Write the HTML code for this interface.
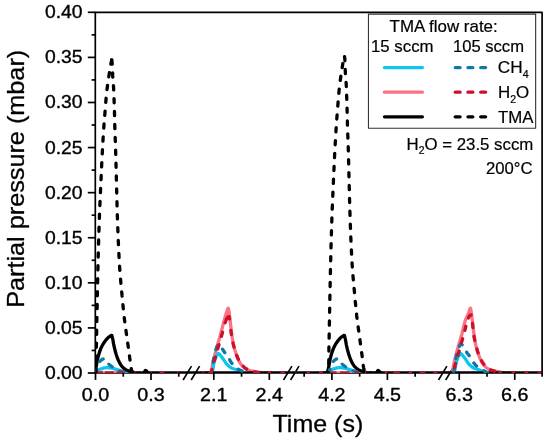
<!DOCTYPE html>
<html><head><meta charset="utf-8"><title>Partial pressure vs time</title>
<style>html,body{margin:0;padding:0;background:#fff}svg{display:block}</style></head>
<body>
<svg width="550" height="441" viewBox="0 0 550 441" font-family="'Liberation Sans', sans-serif" fill="#000" stroke-linejoin="round">
<rect width="550" height="441" fill="#fff"/>
<defs><clipPath id="c"><rect x="95.3" y="12.3" width="446.8" height="360.7"/></clipPath></defs>
<g stroke="#000" stroke-width="1.7" fill="none" stroke-linecap="butt">
<rect x="95.3" y="12.3" width="446.8" height="360.7"/>
<line x1="87.8" y1="373.00" x2="95.3" y2="373.00"/>
<line x1="91.6" y1="350.46" x2="95.3" y2="350.46"/>
<line x1="87.8" y1="327.91" x2="95.3" y2="327.91"/>
<line x1="91.6" y1="305.37" x2="95.3" y2="305.37"/>
<line x1="87.8" y1="282.82" x2="95.3" y2="282.82"/>
<line x1="91.6" y1="260.28" x2="95.3" y2="260.28"/>
<line x1="87.8" y1="237.74" x2="95.3" y2="237.74"/>
<line x1="91.6" y1="215.19" x2="95.3" y2="215.19"/>
<line x1="87.8" y1="192.65" x2="95.3" y2="192.65"/>
<line x1="91.6" y1="170.11" x2="95.3" y2="170.11"/>
<line x1="87.8" y1="147.56" x2="95.3" y2="147.56"/>
<line x1="91.6" y1="125.02" x2="95.3" y2="125.02"/>
<line x1="87.8" y1="102.48" x2="95.3" y2="102.48"/>
<line x1="91.6" y1="79.93" x2="95.3" y2="79.93"/>
<line x1="87.8" y1="57.39" x2="95.3" y2="57.39"/>
<line x1="91.6" y1="34.84" x2="95.3" y2="34.84"/>
<line x1="87.8" y1="12.30" x2="95.3" y2="12.30"/>
<line x1="95.50" y1="373.0" x2="95.50" y2="379.9"/>
<line x1="151.00" y1="373.0" x2="151.00" y2="379.9"/>
<line x1="123.25" y1="373.0" x2="123.25" y2="376.7"/>
<line x1="178.75" y1="373.0" x2="178.75" y2="376.7"/>
<line x1="213.80" y1="373.0" x2="213.80" y2="379.9"/>
<line x1="269.30" y1="373.0" x2="269.30" y2="379.9"/>
<line x1="241.55" y1="373.0" x2="241.55" y2="376.7"/>
<line x1="331.90" y1="373.0" x2="331.90" y2="379.9"/>
<line x1="387.40" y1="373.0" x2="387.40" y2="379.9"/>
<line x1="304.15" y1="373.0" x2="304.15" y2="376.7"/>
<line x1="359.65" y1="373.0" x2="359.65" y2="376.7"/>
<line x1="415.15" y1="373.0" x2="415.15" y2="376.7"/>
<line x1="459.25" y1="373.0" x2="459.25" y2="379.9"/>
<line x1="514.75" y1="373.0" x2="514.75" y2="379.9"/>
<line x1="487.00" y1="373.0" x2="487.00" y2="376.7"/>
<line x1="542.13" y1="373.0" x2="542.13" y2="376.7"/>
<line x1="183.1" y1="380.0" x2="191.5" y2="366.2" stroke-width="1.6"/>
<line x1="191.2" y1="380.0" x2="199.6" y2="366.2" stroke-width="1.6"/>
<line x1="283.5" y1="380.0" x2="291.9" y2="366.2" stroke-width="1.6"/>
<line x1="290.6" y1="380.0" x2="299.0" y2="366.2" stroke-width="1.6"/>
<line x1="438.5" y1="380.0" x2="446.9" y2="366.2" stroke-width="1.6"/>
<line x1="445.7" y1="380.0" x2="454.1" y2="366.2" stroke-width="1.6"/>
</g>
<g clip-path="url(#c)" fill="none" stroke-width="3.3" stroke-linejoin="round" stroke-linecap="round">
<path d="M95.50,373 L96.29,373 L97.09,373 L97.88,373 L98.68,373 L99.47,373 L100.27,373 L101.06,373 L101.86,373 L102.65,373 L103.45,373 L104.24,373 L105.04,373 L105.83,373 L106.62,373 L107.42,373 L108.21,373 L109.01,373 L109.80,373 L110.60,373 L111.39,373 L112.19,373 L112.98,373 L113.78,373 L114.57,373 L115.37,373 L116.16,373 L116.96,373 L117.75,373 L118.54,373 L119.34,373 L120.13,373 L120.93,373 L121.72,373 L122.52,373 L123.31,373 L124.11,373 L124.90,373 L125.70,373 L126.49,373 L127.29,373 L128.08,373 L128.88,373 L129.67,373 L130.46,373 L131.26,373 L132.05,373 L132.85,373 L133.64,373 L134.44,373 L135.23,373 L136.03,373 L136.82,373 L137.62,373 L138.41,373 L139.21,373 L140,373" stroke="#fb7282"/>
<path d="M204,373 L204.97,373 L205.88,373 L206.73,373 L207.53,373 L208.27,373 L208.96,373 L209.59,373 L209.60,373 L210.20,372.63 L210.72,371.87 L210.90,371.50 L211.04,371.16 L211.29,370.45 L211.50,369.71 L211.68,368.93 L211.84,368.14 L211.98,367.33 L212.12,366.51 L212.26,365.70 L212.41,364.89 L212.58,364.10 L212.60,364 L212.76,363.32 L212.94,362.54 L213.12,361.76 L213.30,360.99 L213.48,360.21 L213.67,359.43 L213.85,358.65 L214.04,357.88 L214.23,357.10 L214.41,356.32 L214.61,355.55 L214.80,354.77 L215,354 L215,354 L215.20,353.23 L215.41,352.46 L215.61,351.69 L215.83,350.92 L216.04,350.15 L216.26,349.38 L216.47,348.61 L216.69,347.84 L216.91,347.07 L217.13,346.30 L217.35,345.54 L217.50,345 L217.57,344.77 L217.79,344 L218.01,343.23 L218.23,342.47 L218.46,341.70 L218.69,340.93 L218.91,340.17 L219.14,339.40 L219.36,338.63 L219.59,337.87 L219.81,337.10 L220.03,336.33 L220.24,335.56 L220.40,335 L220.46,334.79 L220.66,334.02 L220.87,333.25 L221.07,332.48 L221.27,331.70 L221.46,330.93 L221.66,330.16 L221.85,329.38 L222.05,328.61 L222.24,327.83 L222.43,327.05 L222.62,326.28 L222.82,325.50 L223.02,324.73 L223.21,323.96 L223.41,323.18 L223.62,322.41 L223.82,321.64 L224,321 L224.04,320.87 L224.25,320.10 L224.47,319.33 L224.68,318.56 L224.90,317.80 L225.13,317.03 L225.35,316.26 L225.58,315.50 L225.81,314.73 L226.04,313.97 L226.28,313.20 L226.50,312.50 L226.52,312.44 L226.75,311.68 L226.99,310.91 L227.24,310.15 L227.52,309.41 L227.60,309.20 L227.86,308.55 L228.10,308.20 L228.20,308.26 L228.47,309 L228.69,309.96 L228.70,310 L228.85,310.73 L228.99,311.51 L229.11,312.30 L229.22,313.09 L229.32,313.88 L229.41,314.68 L229.50,315.48 L229.59,316.28 L229.69,317.07 L229.78,317.87 L229.80,318 L229.88,318.66 L229.98,319.45 L230.08,320.25 L230.18,321.04 L230.28,321.83 L230.37,322.62 L230.47,323.42 L230.56,324.21 L230.66,325 L230.75,325.80 L230.85,326.59 L230.90,327 L230.95,327.38 L231.04,328.17 L231.14,328.97 L231.23,329.76 L231.33,330.55 L231.42,331.35 L231.52,332.14 L231.62,332.93 L231.72,333.72 L231.83,334.52 L231.90,335 L231.94,335.31 L232.06,336.10 L232.18,336.89 L232.29,337.68 L232.42,338.47 L232.54,339.26 L232.67,340.05 L232.80,340.84 L232.94,341.62 L233.08,342.41 L233.23,343.19 L233.39,343.98 L233.55,344.76 L233.60,345 L233.72,345.53 L233.90,346.31 L234.09,347.09 L234.29,347.86 L234.50,348.63 L234.72,349.41 L234.94,350.17 L235.17,350.94 L235.41,351.70 L235.66,352.46 L235.91,353.22 L236,353.50 L236.16,353.97 L236.42,354.73 L236.68,355.50 L236.95,356.26 L237.23,357.02 L237.52,357.77 L237.83,358.52 L238.14,359.26 L238.47,359.99 L238.81,360.70 L239.17,361.40 L239.50,362 L239.55,362.08 L239.95,362.76 L240.39,363.44 L240.86,364.12 L241.35,364.78 L241.87,365.42 L242.41,366.03 L242.97,366.61 L243.54,367.13 L244,367.50 L244.13,367.60 L244.76,368.04 L245.43,368.47 L246.13,368.88 L246.85,369.26 L247.60,369.62 L248.35,369.94 L249.11,370.22 L249.87,370.46 L250,370.50 L250.62,370.66 L251.39,370.84 L252.17,371 L252.95,371.14 L253.75,371.27 L254.54,371.40 L255.34,371.53 L256.14,371.65 L256.93,371.79 L257,371.80 L257.71,371.94 L258.50,372.11 L259.28,372.29 L260.07,372.46 L260.86,372.63 L261.64,372.78 L262.43,372.90 L263.22,372.97 L264,373 L264.01,373 L264.81,373 L265.60,373 L266.40,373 L267.19,373 L267.99,373 L268.79,373 L269.59,373 L270.39,373 L271.20,373 L272,373" stroke="#fb7282"/>
<path d="M324,373 L324.79,373 L325.59,373 L326.38,373 L327.17,373 L327.97,373 L328.76,373 L329.56,373 L330.35,373 L331.14,373 L331.94,373 L332.73,373 L333.52,373 L334.32,373 L335.11,373 L335.90,373 L336.70,373 L337.49,373 L338.29,373 L339.08,373 L339.87,373 L340.67,373 L341.46,373 L342.25,373 L343.05,373 L343.84,373 L344.63,373 L345.43,373 L346.22,373 L347.02,373 L347.81,373 L348.60,373 L349.40,373 L350.19,373 L350.98,373 L351.78,373 L352.57,373 L353.37,373 L354.16,373 L354.95,373 L355.75,373 L356.54,373 L357.33,373 L358.13,373 L358.92,373 L359.71,373 L360.51,373 L361.30,373 L362.10,373 L362.89,373 L363.68,373 L364.48,373 L365.27,373 L366.06,373 L366.86,373 L367.65,373 L368.44,373 L369.24,373 L370.03,373 L370.83,373 L371.62,373 L372.41,373 L373.21,373 L374,373" stroke="#fb7282"/>
<path d="M446,373 L446.96,373 L447.85,373 L448.68,373 L449.45,373 L450.15,373 L450.80,373 L450.80,373 L451.41,372.63 L451.92,371.86 L452.10,371.50 L452.24,371.15 L452.49,370.45 L452.70,369.70 L452.88,368.92 L453.04,368.13 L453.18,367.32 L453.32,366.50 L453.46,365.68 L453.61,364.88 L453.78,364.09 L453.80,364 L453.96,363.31 L454.14,362.53 L454.32,361.75 L454.51,360.97 L454.69,360.19 L454.87,359.41 L455.06,358.64 L455.24,357.86 L455.43,357.08 L455.62,356.31 L455.81,355.53 L456.01,354.75 L456.20,354 L456.21,353.98 L456.41,353.21 L456.61,352.44 L456.82,351.66 L457.03,350.89 L457.25,350.12 L457.46,349.35 L457.68,348.58 L457.90,347.81 L458.12,347.05 L458.34,346.28 L458.56,345.51 L458.70,345 L458.77,344.74 L458.99,343.97 L459.22,343.20 L459.44,342.44 L459.67,341.67 L459.90,340.90 L460.12,340.14 L460.35,339.37 L460.57,338.60 L460.80,337.83 L461.02,337.07 L461.24,336.30 L461.45,335.53 L461.60,335 L461.67,334.76 L461.87,333.99 L462.07,333.21 L462.26,332.43 L462.45,331.65 L462.64,330.87 L462.82,330.09 L463.01,329.31 L463.19,328.53 L463.37,327.75 L463.56,326.97 L463.75,326.20 L463.94,325.42 L464.14,324.65 L464.35,323.88 L464.56,323.11 L464.78,322.34 L465.01,321.58 L465.20,321 L465.26,320.83 L465.52,320.08 L465.80,319.33 L466.10,318.59 L466.42,317.86 L466.74,317.12 L467.07,316.39 L467.39,315.66 L467.72,314.93 L468.03,314.19 L468.34,313.45 L468.63,312.70 L468.70,312.50 L468.89,311.95 L469.13,311.18 L469.36,310.42 L469.62,309.66 L469.80,309.20 L469.93,308.87 L470.29,308.20 L470.30,308.20 L470.58,308.68 L470.83,309.66 L470.90,310 L471,310.47 L471.14,311.25 L471.27,312.03 L471.38,312.82 L471.49,313.62 L471.58,314.41 L471.67,315.21 L471.76,316.01 L471.85,316.81 L471.95,317.60 L472,318 L472.05,318.40 L472.15,319.19 L472.25,319.98 L472.35,320.78 L472.44,321.57 L472.54,322.36 L472.64,323.16 L472.73,323.95 L472.83,324.75 L472.92,325.54 L473.02,326.33 L473.10,327 L473.12,327.13 L473.21,327.92 L473.31,328.71 L473.40,329.51 L473.50,330.30 L473.59,331.10 L473.69,331.89 L473.79,332.68 L473.89,333.47 L474,334.27 L474.10,335 L474.11,335.06 L474.22,335.85 L474.34,336.64 L474.46,337.43 L474.58,338.22 L474.70,339.01 L474.83,339.80 L474.96,340.59 L475.10,341.38 L475.24,342.17 L475.39,342.95 L475.54,343.74 L475.70,344.52 L475.80,345 L475.86,345.30 L476.04,346.08 L476.23,346.85 L476.43,347.63 L476.63,348.40 L476.85,349.17 L477.07,349.94 L477.30,350.71 L477.54,351.48 L477.78,352.24 L478.03,353 L478.20,353.50 L478.28,353.75 L478.54,354.51 L478.80,355.27 L479.07,356.04 L479.35,356.80 L479.64,357.55 L479.94,358.31 L480.25,359.05 L480.57,359.78 L480.91,360.50 L481.26,361.20 L481.64,361.89 L481.70,362 L482.03,362.56 L482.46,363.24 L482.92,363.92 L483.41,364.59 L483.92,365.24 L484.45,365.86 L485.01,366.45 L485.58,366.99 L486.17,367.47 L486.20,367.50 L486.78,367.92 L487.44,368.35 L488.13,368.77 L488.85,369.16 L489.59,369.52 L490.35,369.86 L491.11,370.15 L491.86,370.40 L492.20,370.50 L492.61,370.61 L493.38,370.79 L494.16,370.96 L494.94,371.10 L495.73,371.24 L496.53,371.37 L497.33,371.49 L498.13,371.62 L498.92,371.75 L499.20,371.80 L499.71,371.90 L500.49,372.06 L501.28,372.24 L502.06,372.42 L502.85,372.59 L503.64,372.74 L504.43,372.87 L505.22,372.96 L506.01,373 L506.20,373 L506.80,373 L507.60,373 L508.39,373 L509.19,373 L509.99,373 L510.79,373 L511.59,373 L512.39,373 L513.20,373 L514,373" stroke="#fb7282"/>
<path d="M95.80,373 L96.21,372.25 L96.67,371.55 L97.18,370.93 L97.73,370.40 L98,370.20 L98.33,369.99 L99.01,369.63 L99.75,369.31 L100.53,369.04 L101.32,368.79 L102,368.60 L102.09,368.57 L102.86,368.36 L103.64,368.15 L104.42,367.96 L105.21,367.81 L106,367.72 L106.50,367.70 L106.79,367.70 L107.58,367.72 L108.38,367.77 L109.18,367.82 L109.98,367.90 L110.77,367.98 L111,368 L111.55,368.07 L112.33,368.23 L113.10,368.42 L113.87,368.64 L114.64,368.88 L115.41,369.12 L116,369.30 L116.17,369.35 L116.93,369.59 L117.68,369.84 L118.44,370.10 L119.19,370.36 L119.95,370.62 L120.50,370.80 L120.70,370.87 L121.46,371.12 L122.22,371.38 L122.98,371.64 L123.74,371.87 L124.50,372.08 L125,372.20 L125.27,372.26 L126.05,372.42 L126.83,372.56 L127.62,372.70 L128.41,372.82 L129.20,372.92 L130,373" stroke="#0cc5f3"/>
<path d="M211,373 L211.50,372.35 L211.96,371.69 L212.30,371 L212.30,371 L212.54,370.27 L212.74,369.52 L212.92,368.75 L213.07,367.97 L213.21,367.17 L213.34,366.37 L213.47,365.56 L213.61,364.76 L213.77,363.97 L213.95,363.20 L214,363 L214.16,362.43 L214.37,361.66 L214.60,360.88 L214.84,360.11 L215.09,359.34 L215.36,358.58 L215.65,357.84 L215.96,357.11 L216.30,356.40 L216.50,356 L216.66,355.69 L217.10,354.87 L217.60,354.09 L218.12,353.58 L218.40,353.50 L218.66,353.56 L219.24,354.01 L219.84,354.70 L220.41,355.40 L220.50,355.50 L220.94,356 L221.44,356.62 L221.92,357.26 L222.40,357.90 L222.70,358.30 L222.88,358.54 L223.34,359.19 L223.78,359.86 L224.22,360.54 L224.66,361.22 L225.10,361.90 L225.55,362.56 L226.01,363.20 L226.50,363.82 L227.01,364.41 L227.10,364.50 L227.56,364.97 L228.13,365.53 L228.74,366.08 L229.36,366.60 L230.01,367.09 L230.67,367.54 L231.35,367.92 L231.50,368 L232.04,368.25 L232.78,368.52 L233.54,368.77 L234.31,368.99 L235.09,369.22 L235.87,369.46 L236.62,369.73 L236.80,369.80 L237.35,370.03 L238.08,370.35 L238.80,370.69 L239.51,371.04 L240.22,371.40 L240.92,371.78 L241.62,372.17 L242.31,372.58 L243,373" stroke="#0cc5f3"/>
<path d="M328.40,373 L328.81,372.25 L329.27,371.55 L329.78,370.93 L330.33,370.40 L330.60,370.20 L330.93,369.99 L331.61,369.63 L332.35,369.31 L333.13,369.04 L333.92,368.79 L334.60,368.60 L334.69,368.57 L335.46,368.36 L336.24,368.15 L337.02,367.96 L337.81,367.81 L338.60,367.72 L339.10,367.70 L339.39,367.70 L340.18,367.72 L340.98,367.77 L341.78,367.82 L342.58,367.90 L343.37,367.98 L343.60,368 L344.15,368.07 L344.93,368.23 L345.70,368.42 L346.47,368.64 L347.24,368.88 L348.01,369.12 L348.60,369.30 L348.77,369.35 L349.53,369.59 L350.28,369.84 L351.04,370.10 L351.79,370.36 L352.55,370.62 L353.10,370.80 L353.30,370.87 L354.06,371.12 L354.82,371.38 L355.58,371.64 L356.34,371.87 L357.10,372.08 L357.60,372.20 L357.87,372.26 L358.65,372.42 L359.43,372.56 L360.22,372.70 L361.01,372.82 L361.80,372.92 L362.60,373" stroke="#0cc5f3"/>
<path d="M453.20,373 L453.70,372.35 L454.16,371.69 L454.50,371 L454.50,371 L454.74,370.27 L454.94,369.52 L455.12,368.75 L455.27,367.97 L455.41,367.17 L455.54,366.37 L455.67,365.56 L455.81,364.76 L455.97,363.97 L456.15,363.20 L456.20,363 L456.36,362.43 L456.57,361.66 L456.80,360.88 L457.04,360.11 L457.29,359.34 L457.56,358.58 L457.85,357.84 L458.16,357.11 L458.50,356.40 L458.70,356 L458.86,355.69 L459.30,354.87 L459.80,354.09 L460.32,353.58 L460.60,353.50 L460.86,353.56 L461.44,354.01 L462.04,354.70 L462.61,355.40 L462.70,355.50 L463.14,356 L463.64,356.62 L464.12,357.26 L464.60,357.90 L464.90,358.30 L465.08,358.54 L465.54,359.19 L465.98,359.86 L466.42,360.54 L466.86,361.22 L467.30,361.90 L467.75,362.56 L468.21,363.20 L468.70,363.82 L469.21,364.41 L469.30,364.50 L469.76,364.97 L470.33,365.53 L470.94,366.08 L471.56,366.60 L472.21,367.09 L472.87,367.54 L473.55,367.92 L473.70,368 L474.24,368.25 L474.98,368.52 L475.74,368.77 L476.51,368.99 L477.29,369.22 L478.07,369.46 L478.82,369.73 L479,369.80 L479.55,370.03 L480.28,370.35 L481,370.69 L481.71,371.04 L482.42,371.40 L483.12,371.78 L483.82,372.17 L484.51,372.58 L485.20,373" stroke="#0cc5f3"/>
<path d="M93,373 L93.79,372.66 L94.39,372.21 L94.40,372.20 L94.79,371.60 L95.11,370.84 L95.37,370.03 L95.50,369.60 L95.60,369.26 L95.79,368.48 L95.97,367.70 L96.12,366.91 L96.28,366.13 L96.30,366 L96.42,365.34 L96.56,364.55 L96.69,363.76 L96.81,362.97 L96.94,362.18 L97.07,361.39 L97.22,360.61 L97.30,360.20 L97.38,359.83 L97.55,359.05 L97.74,358.27 L97.93,357.49 L98.13,356.72 L98.34,355.94 L98.56,355.17 L98.79,354.41 L99,353.70 L99.02,353.64 L99.26,352.88 L99.50,352.12 L99.76,351.36 L100.02,350.60 L100.30,349.84 L100.59,349.10 L100.89,348.36 L101.21,347.63 L101.40,347.20 L101.54,346.91 L101.89,346.19 L102.27,345.49 L102.66,344.79 L103.08,344.10 L103.51,343.42 L103.95,342.75 L104.40,342.09 L104.60,341.80 L104.86,341.44 L105.34,340.80 L105.83,340.16 L106.35,339.54 L106.88,338.94 L107.43,338.36 L107.80,338 L108,337.81 L108.60,337.29 L109.23,336.79 L109.88,336.31 L110.50,335.90 L110.55,335.87 L111.31,335.40 L111.60,335.30 L111.78,335.41 L112.07,336.14 L112.29,337.12 L112.40,337.60 L112.49,337.95 L112.66,338.72 L112.82,339.51 L112.97,340.29 L113.10,341.08 L113.23,341.87 L113.36,342.67 L113.50,343.46 L113.65,344.24 L113.80,345 L113.81,345.03 L113.98,345.81 L114.15,346.59 L114.33,347.37 L114.51,348.15 L114.70,348.93 L114.89,349.71 L115.09,350.49 L115.29,351.26 L115.50,352.03 L115.72,352.80 L115.94,353.56 L116.18,354.32 L116.20,354.40 L116.42,355.08 L116.67,355.84 L116.93,356.60 L117.21,357.36 L117.49,358.11 L117.79,358.86 L118.09,359.61 L118.41,360.34 L118.74,361.07 L119.09,361.78 L119.40,362.40 L119.44,362.49 L119.82,363.19 L120.23,363.89 L120.65,364.59 L121.10,365.26 L121.58,365.92 L122.08,366.53 L122.50,367 L122.60,367.10 L123.16,367.65 L123.77,368.19 L124.41,368.69 L125.08,369.17 L125.76,369.60 L126.45,369.98 L126.50,370 L127.16,370.30 L127.90,370.60 L128.66,370.86 L129.43,371.11 L130.20,371.35 L130.97,371.59 L131,371.60 L131.73,371.85 L132.49,372.13 L133.26,372.42 L134.03,372.67 L134.80,372.87 L135.58,372.98 L136,373 L136.37,373 L137.17,373 L137.98,373 L138.80,373 L139.62,373 L140.43,373 L141.23,373 L142,373 L142.50,373 L142.75,372.97 L143.48,372.63 L144.15,372.12 L144.30,372 L144.71,371.49 L145.19,370.70 L145.60,370.40 L145.70,370.41 L146.25,370.87 L146.85,371.59 L147.20,371.90 L147.49,372.09 L148.19,372.55 L148.94,372.90 L149.50,373 L149.69,373 L150.43,373 L151.18,373 L151.93,373 L152.68,373 L153.44,373 L154.19,373 L154.95,373 L155.71,373 L156.47,373 L157.23,373 L157.99,373 L158.76,373 L159.52,373 L160.29,373 L161.06,373 L161.83,373 L162.60,373 L163.37,373 L164.14,373 L164.92,373 L165.70,373 L166.47,373 L167.25,373 L168.03,373 L168.81,373 L169.60,373 L170.38,373 L171.17,373 L171.95,373 L172.74,373 L173.53,373 L174.32,373 L175.11,373 L175.90,373 L176.70,373 L177.49,373 L178.29,373 L179.08,373 L179.88,373 L180.68,373 L181.48,373 L182.28,373 L183.08,373 L183.88,373 L184.69,373 L185.49,373 L186.30,373 L187.10,373 L187.91,373 L188.72,373 L189.53,373 L190.34,373 L191.15,373 L191.96,373 L192.77,373 L193.58,373 L194.40,373 L195.21,373 L196.03,373 L196.84,373 L197.66,373 L198.48,373 L199.29,373 L200.11,373 L200.93,373 L201.75,373 L202.57,373 L203.39,373 L204.21,373 L205.04,373 L205.86,373 L206.68,373 L207.51,373 L208.33,373 L209.15,373 L209.98,373 L210.81,373 L211.63,373 L212.46,373 L213.28,373 L214.11,373 L214.94,373 L215.77,373 L216.59,373 L217.42,373 L218.25,373 L219.08,373 L219.91,373 L220.74,373 L221.57,373 L222.40,373 L223.23,373 L224.06,373 L224.89,373 L225.72,373 L226.55,373 L227.38,373 L228.21,373 L229.05,373 L229.88,373 L230.71,373 L231.54,373 L232.37,373 L233.20,373 L234.03,373 L234.86,373 L235.70,373 L236.53,373 L237.36,373 L238.19,373 L239.02,373 L239.85,373 L240.68,373 L241.51,373 L242.34,373 L243.18,373 L244.01,373 L244.84,373 L245.67,373 L246.50,373 L247.32,373 L248.15,373 L248.98,373 L249.81,373 L250.64,373 L251.47,373 L252.29,373 L253.12,373 L253.95,373 L254.78,373 L255.60,373 L256.43,373 L257.25,373 L258.08,373 L258.90,373 L259.72,373 L260.55,373 L261.37,373 L262.19,373 L263.01,373 L263.84,373 L264.66,373 L265.48,373 L266.30,373 L267.11,373 L267.93,373 L268.75,373 L269.57,373 L270.38,373 L271.20,373 L272.01,373 L272.83,373 L273.64,373 L274.45,373 L275.26,373 L276.08,373 L276.89,373 L277.69,373 L278.50,373 L279.31,373 L280.12,373 L280.92,373 L281.73,373 L282.53,373 L283.33,373 L284.14,373 L284.94,373 L285.74,373 L286.54,373 L287.33,373 L288.13,373 L288.93,373 L289.72,373 L290.52,373 L291.31,373 L292.10,373 L292.89,373 L293.68,373 L294.47,373 L295.26,373 L296.04,373 L296.83,373 L297.61,373 L298.39,373 L299.17,373 L299.95,373 L300.73,373 L301.51,373 L302.28,373 L303.06,373 L303.83,373 L304.60,373 L305.37,373 L306.14,373 L306.91,373 L307.68,373 L308.44,373 L309.20,373 L309.97,373 L310.73,373 L311.48,373 L312.24,373 L313,373 L313.75,373 L314.50,373 L315.26,373 L316.01,373 L316.75,373 L317.50,373 L318.24,373 L318.99,373 L319.73,373 L320.47,373 L321.21,373 L321.94,373 L322.68,373 L323.41,373 L324.14,373 L324.87,373 L325.60,373 L325.60,373 L326.36,372.73 L326.99,372.21 L327,372.20 L327.39,371.60 L327.71,370.84 L327.97,370.03 L328.10,369.60 L328.20,369.26 L328.39,368.49 L328.56,367.71 L328.72,366.92 L328.87,366.13 L328.90,366 L329.02,365.34 L329.16,364.56 L329.29,363.77 L329.41,362.98 L329.54,362.19 L329.67,361.40 L329.82,360.61 L329.90,360.20 L329.98,359.83 L330.15,359.05 L330.33,358.27 L330.53,357.49 L330.73,356.72 L330.94,355.95 L331.16,355.18 L331.39,354.41 L331.60,353.70 L331.62,353.65 L331.85,352.88 L332.10,352.12 L332.36,351.36 L332.62,350.60 L332.90,349.85 L333.19,349.10 L333.49,348.36 L333.81,347.63 L334,347.20 L334.14,346.91 L334.49,346.20 L334.87,345.49 L335.26,344.79 L335.68,344.10 L336.10,343.42 L336.55,342.75 L337,342.09 L337.20,341.80 L337.46,341.44 L337.93,340.80 L338.43,340.16 L338.94,339.54 L339.48,338.94 L340.03,338.36 L340.40,338 L340.60,337.82 L341.20,337.29 L341.82,336.79 L342.48,336.31 L343.10,335.90 L343.14,335.87 L343.91,335.40 L344.20,335.30 L344.38,335.41 L344.67,336.13 L344.89,337.12 L345,337.60 L345.09,337.94 L345.26,338.72 L345.42,339.50 L345.57,340.29 L345.70,341.08 L345.83,341.87 L345.96,342.66 L346.10,343.45 L346.24,344.24 L346.40,345 L346.40,345.02 L346.58,345.80 L346.75,346.58 L346.93,347.37 L347.11,348.15 L347.29,348.93 L347.49,349.70 L347.68,350.48 L347.89,351.25 L348.10,352.03 L348.32,352.79 L348.54,353.56 L348.77,354.32 L348.80,354.40 L349.02,355.08 L349.27,355.84 L349.53,356.60 L349.80,357.36 L350.09,358.11 L350.38,358.86 L350.69,359.60 L351.01,360.34 L351.34,361.06 L351.69,361.78 L352,362.40 L352.04,362.48 L352.42,363.18 L352.82,363.89 L353.25,364.58 L353.70,365.26 L354.18,365.91 L354.67,366.53 L355.10,367 L355.20,367.10 L355.76,367.65 L356.36,368.18 L357.01,368.69 L357.67,369.17 L358.36,369.60 L359.05,369.97 L359.10,370 L359.76,370.30 L360.49,370.59 L361.25,370.86 L362.02,371.11 L362.80,371.35 L363.56,371.59 L363.60,371.60 L364.33,371.85 L365.09,372.13 L365.86,372.42 L366.62,372.67 L367.40,372.87 L368.18,372.98 L368.60,373 L368.96,373 L369.76,373 L370.58,373 L371.40,373 L372.22,373 L373.03,373 L373.83,373 L374.60,373 L375.10,373 L375.34,372.97 L376.08,372.63 L376.75,372.12 L376.90,372 L377.30,371.49 L377.78,370.70 L378.20,370.40 L378.29,370.41 L378.85,370.87 L379.44,371.58 L379.80,371.90 L380.09,372.09 L380.79,372.55 L381.53,372.90 L382.10,373 L382.28,373 L383.03,373 L383.77,373 L384.52,373 L385.27,373 L386.02,373 L386.76,373 L387.51,373 L388.26,373 L389.01,373 L389.76,373 L390.51,373 L391.26,373 L392.01,373 L392.76,373 L393.51,373 L394.26,373 L395.01,373 L395.76,373 L396.51,373 L397.27,373 L398.02,373 L398.77,373 L399.53,373 L400.28,373 L401.04,373 L401.79,373 L402.55,373 L403.30,373 L404.06,373 L404.81,373 L405.57,373 L406.33,373 L407.09,373 L407.84,373 L408.60,373 L409.36,373 L410.12,373 L410.88,373 L411.64,373 L412.40,373 L413.16,373 L413.92,373 L414.69,373 L415.45,373 L416.21,373 L416.97,373 L417.74,373 L418.50,373 L419.27,373 L420.03,373 L420.80,373 L421.56,373 L422.33,373 L423.10,373 L423.86,373 L424.63,373 L425.40,373 L426.17,373 L426.94,373 L427.71,373 L428.48,373 L429.25,373 L430.02,373 L430.80,373 L431.57,373 L432.34,373 L433.11,373 L433.89,373 L434.66,373 L435.44,373 L436.21,373 L436.99,373 L437.77,373 L438.55,373 L439.32,373 L440.10,373 L440.88,373 L441.66,373 L442.44,373 L443.22,373 L444,373 L444.79,373 L445.57,373 L446.35,373 L447.14,373 L447.92,373 L448.70,373 L449.49,373 L450.28,373 L451.06,373 L451.85,373 L452.64,373 L453.43,373 L454.22,373 L455.01,373 L455.80,373 L456.59,373 L457.38,373 L458.17,373 L458.97,373 L459.76,373 L460.55,373 L461.35,373 L462.14,373 L462.94,373 L463.74,373 L464.54,373 L465.33,373 L466.13,373 L466.93,373 L467.73,373 L468.53,373 L469.34,373 L470.14,373 L470.94,373 L471.75,373 L472.55,373 L473.36,373 L474.16,373 L474.97,373 L475.78,373 L476.58,373 L477.39,373 L478.20,373 L479.01,373 L479.82,373 L480.63,373 L481.45,373 L482.26,373 L483.07,373 L483.89,373 L484.71,373 L485.52,373 L486.34,373 L487.16,373 L487.97,373 L488.79,373 L489.61,373 L490.44,373 L491.26,373 L492.08,373 L492.90,373 L493.73,373 L494.55,373 L495.38,373 L496.20,373 L497.03,373 L497.86,373 L498.69,373 L499.52,373 L500.35,373 L501.18,373 L502.01,373 L502.84,373 L503.68,373 L504.51,373 L505.35,373 L506.19,373 L507.02,373 L507.86,373 L508.70,373 L509.54,373 L510.38,373 L511.22,373 L512.06,373 L512.91,373 L513.75,373 L514.60,373 L515.44,373 L516.29,373 L517.14,373 L517.99,373 L518.84,373 L519.69,373 L520.54,373 L521.39,373 L522.24,373 L523.10,373 L523.95,373 L524.81,373 L525.66,373 L526.52,373 L527.38,373 L528.24,373 L529.10,373 L529.96,373 L530.82,373 L531.69,373 L532.55,373 L533.42,373 L534.28,373 L535.15,373 L536.02,373 L536.89,373 L537.76,373 L538.63,373 L539.50,373 L540.37,373 L541.25,373 L542.12,373 L543,373" stroke="#000"/>
<path d="M95.80,373 L95.93,372.21 L96.07,371.42 L96.23,370.63 L96.40,369.85 L96.58,369.08 L96.60,369 L96.77,368.30 L96.98,367.52 L97.20,366.74 L97.44,365.98 L97.71,365.22 L98,364.50 L98,364.49 L98.34,363.77 L98.73,363.06 L99.17,362.37 L99.65,361.72 L100,361.30 L100.15,361.13 L100.72,360.57 L101.35,360.04 L102.01,359.58 L102.50,359.30 L102.70,359.20 L103.50,358.83 L104.28,358.56 L104.70,358.50 L104.90,358.56 L105.38,359.15 L105.81,360 L106,360.30 L106.27,360.68 L106.72,361.36 L107.16,362.03 L107.61,362.69 L108.09,363.33 L108.50,363.80 L108.61,363.92 L109.18,364.46 L109.79,364.98 L110.43,365.48 L111.07,365.97 L111.50,366.30 L111.70,366.46 L112.33,366.95 L112.97,367.44 L113.62,367.92 L114.28,368.36 L114.50,368.50 L114.96,368.77 L115.65,369.17 L116.36,369.55 L117.09,369.90 L117.82,370.23 L118,370.30 L118.56,370.51 L119.31,370.78 L120.07,371.02 L120.84,371.25 L121.61,371.48 L122,371.60 L122.38,371.71 L123.14,371.94 L123.91,372.16 L124.68,372.38 L125.45,372.59 L126.23,372.80 L127,373" stroke="#1078a6" stroke-dasharray="4.2 8.7" stroke-dashoffset="0.59"/>
<path d="M211,373 L211.21,372.23 L211.41,371.45 L211.60,370.68 L211.79,369.90 L211.96,369.12 L212.13,368.34 L212.20,368 L212.28,367.56 L212.42,366.78 L212.56,365.99 L212.68,365.20 L212.80,364.41 L212.91,363.62 L213.02,362.83 L213.14,362.04 L213.25,361.25 L213.37,360.46 L213.50,359.67 L213.63,358.88 L213.78,358.10 L213.80,358 L213.94,357.32 L214.10,356.54 L214.27,355.75 L214.45,354.97 L214.63,354.19 L214.83,353.42 L215.03,352.64 L215.24,351.87 L215.46,351.11 L215.69,350.35 L215.80,350 L215.93,349.59 L216.18,348.82 L216.45,348.06 L216.74,347.30 L217.05,346.57 L217.40,345.86 L217.60,345.50 L217.80,345.14 L218.29,344.35 L218.80,344 L218.84,344 L219.48,344.35 L220.12,344.99 L220.30,345.20 L220.61,345.60 L221.02,346.27 L221.38,346.99 L221.74,347.72 L222.10,348.45 L222.30,348.80 L222.51,349.14 L222.92,349.82 L223.35,350.50 L223.78,351.17 L224.22,351.84 L224.66,352.50 L225,353 L225.11,353.16 L225.58,353.81 L226.06,354.44 L226.55,355.08 L227.04,355.71 L227.53,356.35 L227.99,356.99 L228.20,357.30 L228.43,357.66 L228.85,358.34 L229.25,359.03 L229.64,359.73 L230.03,360.44 L230.42,361.13 L230.84,361.81 L231.27,362.48 L231.50,362.80 L231.74,363.12 L232.23,363.74 L232.74,364.36 L233.28,364.96 L233.83,365.54 L234.40,366.10 L234.50,366.20 L234.98,366.64 L235.57,367.18 L236.19,367.70 L236.83,368.19 L237.47,368.66 L238,369 L238.14,369.08 L238.82,369.47 L239.53,369.83 L240.26,370.18 L240.99,370.52 L241.71,370.86 L242,371 L242.43,371.21 L243.14,371.57 L243.86,371.93 L244.57,372.29 L245.29,372.64 L246,373" stroke="#1078a6" stroke-dasharray="4.2 8.7" stroke-dashoffset="1.91"/>
<path d="M329.20,373 L329.33,372.21 L329.47,371.42 L329.63,370.63 L329.80,369.85 L329.98,369.08 L330,369 L330.17,368.30 L330.38,367.52 L330.60,366.74 L330.84,365.98 L331.11,365.22 L331.40,364.50 L331.40,364.49 L331.74,363.77 L332.13,363.06 L332.57,362.37 L333.05,361.72 L333.40,361.30 L333.55,361.13 L334.12,360.57 L334.75,360.04 L335.41,359.58 L335.90,359.30 L336.10,359.20 L336.90,358.83 L337.68,358.56 L338.10,358.50 L338.30,358.56 L338.78,359.15 L339.21,360 L339.40,360.30 L339.67,360.68 L340.12,361.36 L340.56,362.03 L341.01,362.69 L341.49,363.33 L341.90,363.80 L342.01,363.92 L342.58,364.46 L343.19,364.98 L343.83,365.48 L344.47,365.97 L344.90,366.30 L345.10,366.46 L345.73,366.95 L346.37,367.44 L347.02,367.92 L347.68,368.36 L347.90,368.50 L348.36,368.77 L349.05,369.17 L349.76,369.55 L350.49,369.90 L351.22,370.23 L351.40,370.30 L351.96,370.51 L352.71,370.78 L353.47,371.02 L354.24,371.25 L355.01,371.48 L355.40,371.60 L355.78,371.71 L356.54,371.94 L357.31,372.16 L358.08,372.38 L358.85,372.59 L359.63,372.80 L360.40,373" stroke="#1078a6" stroke-dasharray="4.2 8.7" stroke-dashoffset="0.59"/>
<path d="M453.20,373 L453.41,372.23 L453.61,371.45 L453.80,370.68 L453.99,369.90 L454.16,369.12 L454.33,368.34 L454.40,368 L454.48,367.56 L454.62,366.78 L454.76,365.99 L454.88,365.20 L455,364.41 L455.11,363.62 L455.22,362.83 L455.34,362.04 L455.45,361.25 L455.57,360.46 L455.70,359.67 L455.83,358.88 L455.98,358.10 L456,358 L456.14,357.32 L456.30,356.54 L456.47,355.75 L456.65,354.97 L456.83,354.19 L457.03,353.42 L457.23,352.64 L457.44,351.87 L457.66,351.11 L457.89,350.35 L458,350 L458.13,349.59 L458.38,348.82 L458.65,348.06 L458.94,347.30 L459.25,346.57 L459.60,345.86 L459.80,345.50 L460,345.14 L460.49,344.35 L461,344 L461.04,344 L461.68,344.35 L462.32,344.99 L462.50,345.20 L462.81,345.60 L463.22,346.27 L463.58,346.99 L463.94,347.72 L464.30,348.45 L464.50,348.80 L464.71,349.14 L465.12,349.82 L465.55,350.50 L465.98,351.17 L466.42,351.84 L466.86,352.50 L467.20,353 L467.31,353.16 L467.78,353.81 L468.26,354.44 L468.75,355.08 L469.24,355.71 L469.73,356.35 L470.19,356.99 L470.40,357.30 L470.63,357.66 L471.05,358.34 L471.45,359.03 L471.84,359.73 L472.23,360.44 L472.62,361.13 L473.04,361.81 L473.47,362.48 L473.70,362.80 L473.94,363.12 L474.43,363.74 L474.94,364.36 L475.48,364.96 L476.03,365.54 L476.60,366.10 L476.70,366.20 L477.18,366.64 L477.77,367.18 L478.39,367.70 L479.03,368.19 L479.67,368.66 L480.20,369 L480.34,369.08 L481.02,369.47 L481.73,369.83 L482.46,370.18 L483.19,370.52 L483.91,370.86 L484.20,371 L484.63,371.21 L485.34,371.57 L486.06,371.93 L486.77,372.29 L487.49,372.64 L488.20,373" stroke="#1078a6" stroke-dasharray="4.2 8.7" stroke-dashoffset="11.11"/>
<path d="M228.90,316.70 L228.12,316.94 L228,317 L227.59,317.33 L227.14,317.90 L226.75,318.60 L226.40,319.39 L226.08,320.21 L225.79,321.01 L225.60,321.50 L225.50,321.75 L225.23,322.48 L224.98,323.21 L224.73,323.96 L224.50,324.71 L224.28,325.46 L224.07,326.22 L223.86,326.99 L223.66,327.75 L223.46,328.52 L223.27,329.30 L223.08,330.07 L222.89,330.84 L222.70,331.61 L222.50,332.38 L222.30,333.15 L222.10,333.92 L221.89,334.68 L221.80,335 L221.67,335.44 L221.45,336.20 L221.24,336.96 L221.02,337.72 L220.80,338.48 L220.58,339.24 L220.35,339.99 L220.13,340.75 L219.91,341.51 L219.69,342.27 L219.47,343.03 L219.25,343.78 L219.02,344.54 L218.80,345.30 L218.60,346 L218.58,346.06 L218.36,346.82 L218.14,347.58 L217.92,348.33 L217.70,349.09 L217.48,349.85 L217.26,350.61 L217.04,351.37 L216.82,352.13 L216.60,352.89 L216.38,353.64 L216.16,354.40 L215.94,355.16 L215.72,355.92 L215.50,356.68 L215.40,357 L215.27,357.43 L215.04,358.19 L214.81,358.94 L214.58,359.70 L214.34,360.45 L214.11,361.21 L213.88,361.96 L213.65,362.72 L213.43,363.48 L213.21,364.24 L213,365 L213,365 L212.81,365.77 L212.64,366.56 L212.48,367.35 L212.32,368.14 L212.15,368.92 L211.95,369.68 L211.72,370.42 L211.50,371 L211.45,371.11 L211.06,371.77 L210.55,372.40 L210,373" stroke="#cd102a" stroke-dasharray="7.5 9.85 4.2 8.7 4.2 8.7 4.2 8.7 4.2 8.7 4.2 8.7 4.2 8.7 4.2 8.7 4.2 8.7" stroke-dashoffset="0"/>
<path d="M228.90,316.70 L229.17,317.45 L229.41,318.21 L229.60,318.98 L229.60,319 L229.73,319.75 L229.84,320.53 L229.94,321.32 L230.03,322.11 L230.11,322.90 L230.19,323.69 L230.26,324.49 L230.33,325.28 L230.40,326.08 L230.48,326.87 L230.56,327.66 L230.60,328 L230.65,328.45 L230.74,329.24 L230.83,330.03 L230.92,330.83 L231,331.62 L231.09,332.41 L231.18,333.20 L231.28,333.99 L231.38,334.77 L231.49,335.56 L231.60,336.34 L231.70,337 L231.72,337.13 L231.85,337.91 L232,338.69 L232.15,339.47 L232.31,340.24 L232.49,341.02 L232.67,341.79 L232.85,342.57 L233.04,343.34 L233.24,344.11 L233.44,344.88 L233.64,345.65 L233.85,346.42 L234,347 L234.05,347.19 L234.26,347.95 L234.47,348.72 L234.68,349.49 L234.91,350.26 L235.14,351.02 L235.37,351.78 L235.62,352.54 L235.87,353.29 L236.14,354.04 L236.41,354.77 L236.50,355 L236.70,355.51 L237.01,356.24 L237.33,356.97 L237.66,357.70 L238.01,358.42 L238.37,359.13 L238.74,359.84 L239.13,360.54 L239.53,361.22 L239.93,361.89 L240,362 L240.36,362.56 L240.80,363.22 L241.27,363.88 L241.75,364.53 L242.25,365.15 L242.78,365.75 L243.32,366.32 L243.50,366.50 L243.88,366.86 L244.47,367.40 L245.09,367.92 L245.73,368.43 L246.39,368.89 L247.06,369.32 L247.75,369.68 L248,369.80 L248.45,369.99 L249.18,370.27 L249.93,370.51 L250.69,370.74 L251.47,370.95 L252.25,371.16 L253.04,371.35 L253.81,371.55 L254,371.60 L254.58,371.75 L255.35,371.95 L256.12,372.14 L256.89,372.32 L257.67,372.50 L258.44,372.67 L259.22,372.84 L260,373" stroke="#cd102a" stroke-dasharray="2.2 11.6 4.2 8.7 4.2 8.7 4.2 8.7 4.2 8.7 4.2 8.7 4.2 8.7 4.2 8.7 4.2 8.7" stroke-dashoffset="0"/>
<path d="M452.20,373 L452.75,372.38 L453.25,371.74 L453.64,371.07 L453.70,370.94 L453.91,370.37 L454.14,369.63 L454.33,368.86 L454.50,368.07 L454.66,367.27 L454.81,366.47 L454.98,365.68 L455.16,364.89 L455.20,364.75 L455.37,364.12 L455.58,363.35 L455.80,362.59 L456.02,361.82 L456.25,361.06 L456.48,360.29 L456.70,359.53 L456.93,358.77 L457.16,358 L457.39,357.24 L457.60,356.50 L457.61,356.47 L457.83,355.70 L458.05,354.94 L458.26,354.17 L458.48,353.40 L458.70,352.64 L458.91,351.87 L459.13,351.10 L459.35,350.33 L459.56,349.57 L459.78,348.80 L459.99,348.03 L460.21,347.26 L460.42,346.50 L460.64,345.73 L460.80,345.16 L460.86,344.96 L461.07,344.19 L461.29,343.43 L461.51,342.66 L461.73,341.89 L461.94,341.13 L462.16,340.36 L462.38,339.59 L462.59,338.82 L462.81,338.06 L463.03,337.29 L463.24,336.52 L463.46,335.75 L463.67,334.99 L463.89,334.22 L464,333.82 L464.10,333.45 L464.31,332.68 L464.51,331.90 L464.70,331.13 L464.89,330.35 L465.08,329.56 L465.27,328.78 L465.45,328 L465.64,327.22 L465.83,326.44 L466.03,325.67 L466.23,324.89 L466.44,324.12 L466.66,323.36 L466.88,322.60 L467.12,321.84 L467.37,321.10 L467.63,320.35 L467.80,319.90 L467.91,319.61 L468.19,318.82 L468.49,317.99 L468.83,317.18 L469.20,316.43 L469.62,315.80 L470.11,315.32 L470.20,315.26 L470.87,314.99 L471.10,314.95 L471.31,315.13 L471.56,315.92 L471.73,316.92 L471.80,317.32 L471.87,317.74 L471.99,318.52 L472.09,319.30 L472.19,320.09 L472.27,320.89 L472.34,321.68 L472.42,322.48 L472.48,323.28 L472.55,324.08 L472.63,324.87 L472.70,325.67 L472.78,326.46 L472.80,326.60 L472.87,327.26 L472.96,328.05 L473.04,328.84 L473.13,329.64 L473.21,330.43 L473.30,331.23 L473.39,332.02 L473.48,332.81 L473.58,333.60 L473.68,334.39 L473.80,335.18 L473.90,335.88 L473.91,335.96 L474.04,336.75 L474.18,337.53 L474.33,338.32 L474.49,339.10 L474.65,339.88 L474.83,340.66 L475.01,341.44 L475.19,342.21 L475.38,342.99 L475.58,343.76 L475.77,344.54 L475.97,345.31 L476.17,346.08 L476.20,346.19 L476.37,346.85 L476.58,347.62 L476.78,348.40 L477,349.17 L477.22,349.94 L477.45,350.70 L477.68,351.47 L477.92,352.23 L478.18,352.98 L478.44,353.73 L478.70,354.44 L478.71,354.47 L479,355.21 L479.30,355.95 L479.62,356.69 L479.95,357.42 L480.29,358.14 L480.65,358.86 L481.02,359.57 L481.40,360.28 L481.79,360.97 L482.19,361.65 L482.20,361.66 L482.61,362.32 L483.05,362.99 L483.51,363.66 L483.99,364.31 L484.48,364.94 L485,365.55 L485.53,366.13 L485.70,366.30 L486.09,366.68 L486.67,367.23 L487.29,367.77 L487.92,368.28 L488.58,368.76 L489.25,369.20 L489.94,369.57 L490.20,369.70 L490.63,369.89 L491.36,370.17 L492.11,370.43 L492.88,370.66 L493.65,370.88 L494.44,371.09 L495.22,371.30 L496,371.50 L496.20,371.56 L496.77,371.71 L497.54,371.91 L498.31,372.11 L499.09,372.30 L499.86,372.48 L500.64,372.66 L501.42,372.83 L502.20,373" stroke="#cd102a" stroke-dasharray="4.2 8.7" stroke-dashoffset="6.91"/>
<line x1="97.1" y1="373.0" x2="103.0" y2="373.0" stroke="#cd102a" stroke-linecap="butt"/>
<line x1="104.8" y1="373.0" x2="113.9" y2="373.0" stroke="#cd102a" stroke-linecap="butt"/>
<line x1="116.6" y1="373.0" x2="124.5" y2="373.0" stroke="#cd102a" stroke-linecap="butt"/>
<line x1="134.4" y1="373.0" x2="135.4" y2="373.0" stroke="#cd102a" stroke-linecap="butt"/>
<line x1="150.6" y1="373.0" x2="151.6" y2="373.0" stroke="#cd102a" stroke-linecap="butt"/>
<line x1="159.5" y1="373.0" x2="164.5" y2="373.0" stroke="#cd102a" stroke-linecap="butt"/>
<line x1="177.2" y1="373.0" x2="178.3" y2="373.0" stroke="#cd102a" stroke-linecap="butt"/>
<line x1="202.8" y1="373.0" x2="203.9" y2="373.0" stroke="#cd102a" stroke-linecap="butt"/>
<line x1="254.5" y1="373.0" x2="258.0" y2="373.0" stroke="#cd102a" stroke-linecap="butt"/>
<line x1="267.5" y1="373.0" x2="271.0" y2="373.0" stroke="#cd102a" stroke-linecap="butt"/>
<line x1="280.5" y1="373.0" x2="284.6" y2="373.0" stroke="#cd102a" stroke-linecap="butt"/>
<line x1="295.4" y1="373.0" x2="296.4" y2="373.0" stroke="#cd102a" stroke-linecap="butt"/>
<line x1="306.7" y1="373.0" x2="309.6" y2="373.0" stroke="#cd102a" stroke-linecap="butt"/>
<line x1="319.0" y1="373.0" x2="322.7" y2="373.0" stroke="#cd102a" stroke-linecap="butt"/>
<line x1="330.7" y1="373.0" x2="336.5" y2="373.0" stroke="#cd102a" stroke-linecap="butt"/>
<line x1="340.0" y1="373.0" x2="349.6" y2="373.0" stroke="#cd102a" stroke-linecap="butt"/>
<line x1="354.0" y1="373.0" x2="359.0" y2="373.0" stroke="#cd102a" stroke-linecap="butt"/>
<line x1="365.0" y1="373.0" x2="366.2" y2="373.0" stroke="#cd102a" stroke-linecap="butt"/>
<line x1="384.5" y1="373.0" x2="387.5" y2="373.0" stroke="#cd102a" stroke-linecap="butt"/>
<line x1="393.3" y1="373.0" x2="399.8" y2="373.0" stroke="#cd102a" stroke-linecap="butt"/>
<line x1="408.5" y1="373.0" x2="412.2" y2="373.0" stroke="#cd102a" stroke-linecap="butt"/>
<line x1="419.5" y1="373.0" x2="425.3" y2="373.0" stroke="#cd102a" stroke-linecap="butt"/>
<line x1="433.3" y1="373.0" x2="437.6" y2="373.0" stroke="#cd102a" stroke-linecap="butt"/>
<line x1="498.4" y1="373.0" x2="502.0" y2="373.0" stroke="#cd102a" stroke-linecap="butt"/>
<line x1="511.5" y1="373.0" x2="515.0" y2="373.0" stroke="#cd102a" stroke-linecap="butt"/>
<line x1="524.5" y1="373.0" x2="528.2" y2="373.0" stroke="#cd102a" stroke-linecap="butt"/>
<line x1="537.6" y1="373.0" x2="541.3" y2="373.0" stroke="#cd102a" stroke-linecap="butt"/>
<path d="M111.70,60 L111.53,60.78 L111.37,61.56 L111.21,62.34 L111.05,63.13 L110.90,63.91 L110.75,64.69 L110.60,65.48 L110.60,65.50 L110.46,66.26 L110.33,67.05 L110.19,67.84 L110.06,68.62 L109.93,69.41 L109.80,70.20 L109.68,70.99 L109.56,71.78 L109.43,72.57 L109.31,73.35 L109.19,74.14 L109.07,74.93 L109,75.40 L108.95,75.72 L108.83,76.51 L108.71,77.30 L108.59,78.09 L108.47,78.88 L108.35,79.67 L108.23,80.46 L108.12,81.25 L108,82.04 L107.89,82.83 L107.77,83.62 L107.66,84.41 L107.56,85.20 L107.45,85.99 L107.35,86.78 L107.25,87.57 L107.20,88 L107.16,88.36 L107.06,89.16 L106.97,89.95 L106.88,90.74 L106.80,91.54 L106.71,92.33 L106.63,93.12 L106.55,93.92 L106.47,94.71 L106.39,95.51 L106.31,96.30 L106.23,97.10 L106.16,97.89 L106.08,98.69 L106.01,99.48 L105.94,100.27 L105.90,100.70 L105.87,101.07 L105.80,101.86 L105.73,102.66 L105.67,103.46 L105.60,104.25 L105.54,105.05 L105.48,105.84 L105.42,106.64 L105.36,107.43 L105.29,108.23 L105.23,109.03 L105.17,109.82 L105.11,110.62 L105.05,111.41 L104.99,112.21 L104.93,113.01 L104.90,113.40 L104.87,113.80 L104.80,114.60 L104.74,115.39 L104.67,116.19 L104.61,116.98 L104.54,117.78 L104.48,118.57 L104.41,119.37 L104.35,120.17 L104.28,120.96 L104.22,121.76 L104.16,122.55 L104.09,123.35 L104.03,124.14 L103.98,124.94 L103.92,125.74 L103.90,126 L103.86,126.53 L103.81,127.33 L103.75,128.12 L103.70,128.92 L103.65,129.72 L103.59,130.51 L103.54,131.31 L103.49,132.11 L103.44,132.90 L103.39,133.70 L103.34,134.50 L103.29,135.29 L103.24,136.09 L103.19,136.89 L103.14,137.68 L103.09,138.48 L103.05,139.28 L103,140.07 L102.95,140.87 L102.91,141.67 L102.86,142.46 L102.81,143.26 L102.77,144.06 L102.72,144.85 L102.68,145.65 L102.63,146.45 L102.59,147.24 L102.55,148.04 L102.50,148.84 L102.46,149.63 L102.42,150.43 L102.37,151.23 L102.33,152.03 L102.30,152.60 L102.29,152.82 L102.25,153.62 L102.20,154.42 L102.16,155.21 L102.12,156.01 L102.08,156.81 L102.04,157.61 L102,158.40 L101.96,159.20 L101.92,160 L101.88,160.79 L101.85,161.59 L101.81,162.39 L101.77,163.19 L101.73,163.98 L101.69,164.78 L101.66,165.58 L101.62,166.37 L101.58,167.17 L101.54,167.97 L101.51,168.77 L101.47,169.56 L101.44,170.36 L101.40,171.16 L101.36,171.96 L101.33,172.75 L101.29,173.55 L101.25,174.35 L101.22,175.14 L101.18,175.94 L101.15,176.74 L101.11,177.54 L101.07,178.33 L101.04,179.13 L101,179.93 L101,180 L100.97,180.73 L100.93,181.52 L100.90,182.32 L100.86,183.12 L100.82,183.92 L100.79,184.71 L100.75,185.51 L100.71,186.31 L100.68,187.10 L100.64,187.90 L100.61,188.70 L100.57,189.50 L100.53,190.29 L100.50,191.09 L100.46,191.89 L100.42,192.69 L100.39,193.48 L100.35,194.28 L100.32,195.08 L100.28,195.88 L100.24,196.67 L100.21,197.47 L100.17,198.27 L100.14,199.07 L100.10,199.86 L100.07,200.66 L100.03,201.46 L100,202.25 L99.97,203.05 L99.93,203.85 L99.90,204.65 L99.86,205.44 L99.83,206.24 L99.80,207.04 L99.76,207.84 L99.73,208.63 L99.70,209.43 L99.67,210.23 L99.63,211.03 L99.60,211.82 L99.57,212.62 L99.54,213.42 L99.51,214.22 L99.48,215.01 L99.45,215.81 L99.42,216.61 L99.39,217.41 L99.36,218.20 L99.33,219 L99.31,219.80 L99.30,220 L99.28,220.60 L99.25,221.39 L99.23,222.19 L99.20,222.99 L99.17,223.79 L99.14,224.59 L99.12,225.38 L99.09,226.18 L99.07,226.98 L99.04,227.78 L99.01,228.57 L98.99,229.37 L98.96,230.17 L98.94,230.97 L98.91,231.76 L98.89,232.56 L98.86,233.36 L98.84,234.16 L98.81,234.96 L98.79,235.75 L98.77,236.55 L98.74,237.35 L98.72,238.15 L98.70,238.94 L98.67,239.74 L98.65,240.54 L98.63,241.34 L98.60,242.14 L98.58,242.93 L98.56,243.73 L98.53,244.53 L98.51,245.33 L98.49,246.13 L98.47,246.92 L98.45,247.72 L98.42,248.52 L98.40,249.32 L98.38,250.11 L98.36,250.91 L98.34,251.71 L98.32,252.51 L98.30,253.31 L98.27,254.10 L98.25,254.90 L98.23,255.70 L98.21,256.50 L98.19,257.30 L98.17,258.09 L98.15,258.89 L98.13,259.69 L98.11,260.49 L98.09,261.28 L98.07,262.08 L98.05,262.88 L98.03,263.68 L98.01,264.48 L98,265 L97.99,265.27 L97.97,266.07 L97.96,266.87 L97.94,267.67 L97.92,268.47 L97.90,269.26 L97.88,270.06 L97.86,270.86 L97.84,271.66 L97.83,272.46 L97.81,273.25 L97.79,274.05 L97.77,274.85 L97.75,275.65 L97.74,276.45 L97.72,277.24 L97.70,278.04 L97.68,278.84 L97.67,279.64 L97.65,280.43 L97.63,281.23 L97.62,282.03 L97.60,282.83 L97.58,283.63 L97.57,284.42 L97.55,285.22 L97.53,286.02 L97.52,286.82 L97.50,287.62 L97.49,288.41 L97.47,289.21 L97.45,290.01 L97.44,290.81 L97.42,291.61 L97.40,292.40 L97.39,293.20 L97.37,294 L97.36,294.80 L97.34,295.60 L97.33,296.39 L97.31,297.19 L97.29,297.99 L97.28,298.79 L97.26,299.59 L97.25,300.38 L97.23,301.18 L97.22,301.98 L97.20,302.78 L97.18,303.58 L97.17,304.37 L97.15,305.17 L97.14,305.97 L97.12,306.77 L97.11,307.57 L97.09,308.36 L97.08,309.16 L97.06,309.96 L97.04,310.76 L97.03,311.56 L97.01,312.35 L97,313 L97,313.15 L96.98,313.95 L96.97,314.75 L96.95,315.55 L96.93,316.34 L96.92,317.14 L96.90,317.94 L96.89,318.74 L96.87,319.54 L96.86,320.33 L96.84,321.13 L96.83,321.93 L96.81,322.73 L96.80,323.53 L96.78,324.32 L96.77,325.12 L96.75,325.92 L96.74,326.72 L96.73,327.52 L96.71,328.31 L96.70,329.11 L96.68,329.91 L96.67,330.71 L96.65,331.51 L96.64,332.30 L96.62,333.10 L96.61,333.90 L96.59,334.70 L96.58,335.50 L96.56,336.29 L96.55,337.09 L96.53,337.89 L96.52,338.69 L96.50,339.49 L96.49,340.28 L96.47,341.08 L96.46,341.88 L96.44,342.68 L96.43,343.48 L96.41,344.27 L96.40,345.07 L96.38,345.87 L96.37,346.67 L96.35,347.47 L96.34,348.26 L96.32,349.06 L96.30,349.86 L96.30,350 L96.29,350.66 L96.27,351.46 L96.25,352.25 L96.24,353.05 L96.22,353.85 L96.20,354.65 L96.19,355.45 L96.17,356.24 L96.15,357.04 L96.14,357.84 L96.12,358.64 L96.10,359.44 L96.08,360.23 L96.07,361.03 L96.05,361.83 L96.03,362.63 L96.01,363.42 L96,364.22 L95.98,365.02 L95.96,365.82 L95.94,366.62 L95.93,367.41 L95.91,368.21 L95.89,369.01 L95.87,369.81 L95.85,370.61 L95.84,371.40 L95.82,372.20 L95.80,373" stroke="#000" stroke-dasharray="4.2 8.7" stroke-dashoffset="0.00"/>
<path d="M111.70,60 L111.82,60.79 L111.93,61.58 L112.04,62.37 L112.14,63.17 L112.23,63.96 L112.31,64.75 L112.37,65.55 L112.40,66 L112.42,66.34 L112.45,67.14 L112.48,67.94 L112.51,68.73 L112.53,69.53 L112.55,70.33 L112.57,71.13 L112.59,71.93 L112.61,72.72 L112.63,73.52 L112.66,74.32 L112.69,75.12 L112.70,75.40 L112.72,75.91 L112.77,76.71 L112.82,77.51 L112.87,78.30 L112.93,79.10 L112.99,79.90 L113.05,80.69 L113.12,81.49 L113.19,82.28 L113.25,83.08 L113.32,83.87 L113.38,84.67 L113.44,85.47 L113.50,86.26 L113.55,87.06 L113.59,87.85 L113.60,88 L113.63,88.65 L113.67,89.45 L113.71,90.25 L113.74,91.04 L113.78,91.84 L113.81,92.64 L113.84,93.43 L113.87,94.23 L113.90,95.03 L113.93,95.83 L113.96,96.63 L113.99,97.42 L114.01,98.22 L114.04,99.02 L114.07,99.82 L114.10,100.61 L114.10,100.70 L114.12,101.41 L114.15,102.21 L114.18,103.01 L114.21,103.80 L114.23,104.60 L114.26,105.40 L114.29,106.20 L114.31,106.99 L114.34,107.79 L114.36,108.59 L114.38,109.39 L114.41,110.19 L114.43,110.98 L114.46,111.78 L114.48,112.58 L114.50,113.38 L114.50,113.40 L114.52,114.17 L114.54,114.97 L114.56,115.77 L114.58,116.57 L114.60,117.37 L114.62,118.16 L114.63,118.96 L114.65,119.76 L114.67,120.56 L114.69,121.35 L114.70,122.15 L114.72,122.95 L114.74,123.75 L114.76,124.55 L114.78,125.34 L114.80,126 L114.80,126.14 L114.83,126.94 L114.85,127.74 L114.87,128.53 L114.90,129.33 L114.92,130.13 L114.95,130.93 L114.98,131.73 L115,132.52 L115.03,133.32 L115.06,134.12 L115.09,134.92 L115.11,135.71 L115.14,136.51 L115.17,137.31 L115.20,138.11 L115.23,138.90 L115.26,139.70 L115.29,140.50 L115.32,141.30 L115.35,142.09 L115.38,142.89 L115.40,143.69 L115.43,144.49 L115.46,145.28 L115.49,146.08 L115.52,146.88 L115.54,147.68 L115.57,148.47 L115.60,149.27 L115.62,150.07 L115.65,150.87 L115.67,151.66 L115.70,152.46 L115.70,152.60 L115.72,153.26 L115.74,154.06 L115.76,154.86 L115.79,155.65 L115.81,156.45 L115.83,157.25 L115.85,158.05 L115.87,158.84 L115.89,159.64 L115.91,160.44 L115.93,161.24 L115.95,162.04 L115.97,162.83 L115.99,163.63 L116.01,164.43 L116.03,165.23 L116.05,166.02 L116.07,166.82 L116.09,167.62 L116.11,168.42 L116.13,169.22 L116.15,170.01 L116.17,170.81 L116.19,171.61 L116.21,172.41 L116.23,173.21 L116.25,174 L116.27,174.80 L116.29,175.60 L116.31,176.40 L116.33,177.19 L116.35,177.99 L116.37,178.79 L116.39,179.59 L116.40,180 L116.41,180.39 L116.43,181.18 L116.45,181.98 L116.47,182.78 L116.49,183.58 L116.51,184.37 L116.53,185.17 L116.55,185.97 L116.58,186.77 L116.60,187.57 L116.62,188.36 L116.64,189.16 L116.66,189.96 L116.68,190.76 L116.70,191.56 L116.72,192.35 L116.74,193.15 L116.76,193.95 L116.78,194.75 L116.80,195.54 L116.82,196.34 L116.84,197.14 L116.86,197.94 L116.88,198.74 L116.90,199.53 L116.92,200.33 L116.94,201.13 L116.96,201.93 L116.99,202.72 L117.01,203.52 L117.03,204.32 L117.05,205.12 L117.07,205.92 L117.09,206.71 L117.12,207.51 L117.14,208.31 L117.16,209.11 L117.18,209.90 L117.21,210.70 L117.23,211.50 L117.26,212.30 L117.28,213.10 L117.30,213.89 L117.33,214.69 L117.35,215.49 L117.38,216.29 L117.40,217.08 L117.43,217.88 L117.46,218.68 L117.48,219.48 L117.50,220 L117.51,220.27 L117.54,221.07 L117.56,221.87 L117.59,222.67 L117.62,223.46 L117.65,224.26 L117.68,225.06 L117.70,225.86 L117.73,226.65 L117.76,227.45 L117.79,228.25 L117.82,229.05 L117.85,229.84 L117.88,230.64 L117.91,231.44 L117.94,232.24 L117.97,233.04 L118,233.83 L118.03,234.63 L118.06,235.43 L118.10,236.23 L118.13,237.02 L118.16,237.82 L118.19,238.62 L118.23,239.42 L118.26,240.21 L118.29,241.01 L118.33,241.81 L118.36,242.61 L118.40,243.40 L118.43,244.20 L118.47,245 L118.50,245.80 L118.54,246.59 L118.58,247.39 L118.61,248.19 L118.65,248.99 L118.69,249.78 L118.73,250.58 L118.77,251.38 L118.81,252.17 L118.85,252.97 L118.89,253.77 L118.93,254.56 L118.97,255.36 L119.01,256.16 L119.05,256.96 L119.09,257.75 L119.14,258.55 L119.18,259.35 L119.22,260.14 L119.27,260.94 L119.31,261.74 L119.36,262.53 L119.40,263.33 L119.45,264.12 L119.50,264.92 L119.50,265 L119.54,265.72 L119.59,266.51 L119.64,267.31 L119.70,268.11 L119.75,268.90 L119.81,269.70 L119.86,270.49 L119.92,271.29 L119.98,272.08 L120.04,272.88 L120.10,273.68 L120.17,274.47 L120.23,275.27 L120.30,276.06 L120.36,276.86 L120.43,277.65 L120.50,278.45 L120.57,279.24 L120.63,280.04 L120.70,280.83 L120.78,281.63 L120.85,282.42 L120.92,283.22 L120.99,284.01 L121.06,284.81 L121.14,285.60 L121.21,286.40 L121.28,287.19 L121.35,287.99 L121.43,288.78 L121.50,289.58 L121.58,290.37 L121.65,291.17 L121.72,291.96 L121.80,292.76 L121.87,293.55 L121.94,294.35 L122,295 L122.01,295.14 L122.09,295.94 L122.16,296.73 L122.23,297.53 L122.30,298.32 L122.38,299.12 L122.45,299.91 L122.52,300.71 L122.60,301.50 L122.67,302.30 L122.74,303.09 L122.82,303.88 L122.90,304.68 L122.97,305.47 L123.05,306.27 L123.13,307.06 L123.21,307.86 L123.28,308.65 L123.36,309.45 L123.45,310.24 L123.53,311.03 L123.61,311.83 L123.70,312.62 L123.78,313.41 L123.87,314.21 L123.95,315 L124.04,315.79 L124.10,316.30 L124.13,316.59 L124.22,317.38 L124.32,318.17 L124.41,318.96 L124.51,319.75 L124.61,320.55 L124.71,321.34 L124.82,322.13 L124.92,322.92 L125.02,323.71 L125.13,324.50 L125.24,325.29 L125.35,326.08 L125.46,326.87 L125.57,327.66 L125.68,328.45 L125.79,329.24 L125.90,330.04 L126.01,330.83 L126.12,331.62 L126.24,332.41 L126.35,333.20 L126.46,333.99 L126.57,334.78 L126.69,335.57 L126.80,336.36 L126.91,337.15 L127.02,337.94 L127.13,338.73 L127.23,339.52 L127.30,340 L127.34,340.31 L127.45,341.10 L127.56,341.89 L127.66,342.68 L127.77,343.47 L127.88,344.27 L127.99,345.06 L128.09,345.85 L128.20,346.64 L128.31,347.43 L128.42,348.22 L128.52,349.01 L128.63,349.80 L128.74,350.59 L128.85,351.38 L128.95,352.17 L129.06,352.96 L129.17,353.75 L129.28,354.55 L129.39,355.34 L129.50,356.13 L129.61,356.92 L129.70,357.60 L129.71,357.71 L129.82,358.50 L129.92,359.30 L130.01,360.10 L130.10,360.90 L130.19,361.70 L130.28,362.50 L130.37,363.30 L130.47,364.10 L130.57,364.89 L130.68,365.68 L130.81,366.47 L130.94,367.24 L131.09,368.02 L131.25,368.78 L131.30,369 L131.44,369.59 L131.68,370.55 L131.96,371.50 L132.30,372.33 L132.69,372.87 L133,373 L133.12,373 L133.67,373 L134.35,373 L135.13,373 L136.01,373 L136.97,373 L138,373" stroke="#000" stroke-dasharray="4.2 8.7" stroke-dashoffset="0.00"/>
<path d="M322,373 L323.01,373 L324.07,373 L325.13,373 L326.13,373 L327.01,373 L327.72,373 L328.20,373 L328.40,373 L328.40,373 L328.44,372.95 L328.48,372.79 L328.51,372.53 L328.54,372.18 L328.57,371.75 L328.59,371.23 L328.62,370.64 L328.64,369.97 L328.66,369.25 L328.68,368.46 L328.69,367.62 L328.71,366.73 L328.72,365.80 L328.73,364.84 L328.75,363.84 L328.76,362.82 L328.77,361.78 L328.78,360.72 L328.79,359.66 L328.79,358.59 L328.80,357.53 L328.81,356.48 L328.82,355.44 L328.83,354.42 L328.84,353.43 L328.86,352.46 L328.87,351.54 L328.88,350.66 L328.90,349.82 L328.90,349.69 L328.91,349.02 L328.93,348.22 L328.95,347.42 L328.96,346.62 L328.98,345.82 L328.99,345.02 L329.01,344.22 L329.02,343.43 L329.04,342.63 L329.05,341.83 L329.07,341.03 L329.08,340.23 L329.10,339.43 L329.11,338.63 L329.13,337.83 L329.14,337.03 L329.16,336.23 L329.17,335.43 L329.19,334.63 L329.20,333.83 L329.21,333.03 L329.23,332.23 L329.24,331.43 L329.26,330.63 L329.27,329.83 L329.29,329.03 L329.30,328.24 L329.32,327.44 L329.33,326.64 L329.35,325.84 L329.36,325.04 L329.37,324.24 L329.39,323.44 L329.40,322.64 L329.42,321.84 L329.43,321.04 L329.45,320.24 L329.46,319.44 L329.48,318.64 L329.49,317.84 L329.51,317.04 L329.52,316.24 L329.54,315.44 L329.55,314.64 L329.57,313.85 L329.58,313.05 L329.60,312.25 L329.60,312.19 L329.61,311.45 L329.63,310.65 L329.65,309.85 L329.66,309.05 L329.68,308.25 L329.69,307.45 L329.71,306.65 L329.72,305.85 L329.74,305.05 L329.75,304.25 L329.77,303.45 L329.78,302.65 L329.80,301.85 L329.82,301.05 L329.83,300.25 L329.85,299.46 L329.86,298.66 L329.88,297.86 L329.89,297.06 L329.91,296.26 L329.92,295.46 L329.94,294.66 L329.96,293.86 L329.97,293.06 L329.99,292.26 L330,291.46 L330.02,290.66 L330.03,289.86 L330.05,289.06 L330.07,288.26 L330.08,287.46 L330.10,286.66 L330.11,285.86 L330.13,285.07 L330.15,284.27 L330.16,283.47 L330.18,282.67 L330.20,281.87 L330.21,281.07 L330.23,280.27 L330.24,279.47 L330.26,278.67 L330.28,277.87 L330.30,277.07 L330.31,276.27 L330.33,275.47 L330.35,274.67 L330.36,273.87 L330.38,273.07 L330.40,272.27 L330.42,271.48 L330.44,270.68 L330.45,269.88 L330.47,269.08 L330.49,268.28 L330.51,267.48 L330.53,266.68 L330.54,265.88 L330.56,265.08 L330.58,264.28 L330.60,263.55 L330.60,263.48 L330.62,262.68 L330.64,261.88 L330.66,261.08 L330.68,260.28 L330.70,259.49 L330.72,258.69 L330.74,257.89 L330.76,257.09 L330.78,256.29 L330.80,255.49 L330.82,254.69 L330.84,253.89 L330.86,253.09 L330.88,252.29 L330.90,251.49 L330.92,250.69 L330.94,249.89 L330.96,249.09 L330.99,248.29 L331.01,247.50 L331.03,246.70 L331.05,245.90 L331.07,245.10 L331.09,244.30 L331.12,243.50 L331.14,242.70 L331.16,241.90 L331.18,241.10 L331.20,240.30 L331.23,239.50 L331.25,238.70 L331.27,237.90 L331.30,237.10 L331.32,236.30 L331.34,235.51 L331.37,234.71 L331.39,233.91 L331.41,233.11 L331.44,232.31 L331.46,231.51 L331.49,230.71 L331.51,229.91 L331.54,229.11 L331.56,228.31 L331.59,227.51 L331.61,226.71 L331.64,225.92 L331.66,225.12 L331.69,224.32 L331.71,223.52 L331.74,222.72 L331.77,221.92 L331.79,221.12 L331.82,220.32 L331.85,219.52 L331.87,218.72 L331.90,217.95 L331.90,217.92 L331.93,217.12 L331.96,216.33 L331.98,215.53 L332.01,214.73 L332.04,213.93 L332.07,213.13 L332.10,212.33 L332.13,211.53 L332.16,210.73 L332.19,209.93 L332.22,209.13 L332.25,208.34 L332.29,207.54 L332.32,206.74 L332.35,205.94 L332.38,205.14 L332.42,204.34 L332.45,203.54 L332.48,202.74 L332.52,201.94 L332.55,201.15 L332.58,200.35 L332.62,199.55 L332.65,198.75 L332.69,197.95 L332.72,197.15 L332.76,196.35 L332.79,195.55 L332.83,194.75 L332.86,193.96 L332.90,193.16 L332.93,192.36 L332.97,191.56 L333,190.76 L333.04,189.96 L333.07,189.16 L333.11,188.36 L333.15,187.57 L333.18,186.77 L333.22,185.97 L333.25,185.17 L333.29,184.37 L333.32,183.57 L333.36,182.77 L333.40,181.97 L333.43,181.17 L333.47,180.38 L333.50,179.58 L333.54,178.78 L333.57,177.98 L333.60,177.41 L333.61,177.18 L333.65,176.38 L333.68,175.58 L333.72,174.78 L333.75,173.99 L333.79,173.19 L333.82,172.39 L333.86,171.59 L333.89,170.79 L333.93,169.99 L333.97,169.19 L334,168.39 L334.04,167.60 L334.07,166.80 L334.11,166 L334.15,165.20 L334.18,164.40 L334.22,163.60 L334.26,162.80 L334.29,162 L334.33,161.20 L334.37,160.41 L334.41,159.61 L334.44,158.81 L334.48,158.01 L334.52,157.21 L334.56,156.41 L334.60,155.61 L334.64,154.82 L334.68,154.02 L334.72,153.22 L334.76,152.42 L334.80,151.62 L334.84,150.82 L334.88,150.02 L334.90,149.64 L334.92,149.23 L334.96,148.43 L335.01,147.63 L335.05,146.83 L335.09,146.03 L335.13,145.23 L335.18,144.44 L335.22,143.64 L335.27,142.84 L335.31,142.04 L335.35,141.24 L335.40,140.44 L335.44,139.64 L335.49,138.85 L335.54,138.05 L335.58,137.25 L335.63,136.45 L335.68,135.65 L335.72,134.86 L335.77,134.06 L335.82,133.26 L335.87,132.46 L335.92,131.66 L335.97,130.86 L336.02,130.07 L336.07,129.27 L336.12,128.47 L336.17,127.67 L336.22,126.87 L336.27,126.08 L336.32,125.28 L336.38,124.48 L336.43,123.68 L336.49,122.89 L336.50,122.69 L336.54,122.09 L336.60,121.29 L336.66,120.49 L336.72,119.70 L336.78,118.90 L336.84,118.10 L336.90,117.30 L336.97,116.51 L337.03,115.71 L337.10,114.91 L337.16,114.12 L337.23,113.32 L337.29,112.52 L337.36,111.73 L337.42,110.93 L337.48,110.13 L337.50,109.92 L337.55,109.33 L337.61,108.54 L337.67,107.74 L337.73,106.94 L337.79,106.14 L337.85,105.35 L337.90,104.55 L337.96,103.75 L338.02,102.95 L338.08,102.16 L338.15,101.36 L338.21,100.56 L338.27,99.77 L338.34,98.97 L338.40,98.17 L338.47,97.38 L338.50,97.05 L338.54,96.58 L338.61,95.78 L338.68,94.99 L338.76,94.19 L338.83,93.39 L338.91,92.60 L338.98,91.80 L339.06,91.01 L339.14,90.21 L339.22,89.41 L339.31,88.62 L339.39,87.82 L339.48,87.03 L339.56,86.23 L339.65,85.44 L339.74,84.65 L339.80,84.18 L339.84,83.85 L339.94,83.06 L340.03,82.27 L340.14,81.47 L340.24,80.68 L340.35,79.89 L340.46,79.10 L340.57,78.30 L340.69,77.51 L340.80,76.72 L340.92,75.93 L341.04,75.14 L341.16,74.35 L341.28,73.56 L341.40,72.77 L341.51,71.98 L341.60,71.41 L341.63,71.19 L341.75,70.39 L341.87,69.60 L341.99,68.81 L342.11,68.02 L342.23,67.23 L342.36,66.44 L342.48,65.65 L342.61,64.86 L342.74,64.07 L342.87,63.28 L343,62.50 L343.14,61.71 L343.20,61.37 L343.28,60.89 L343.44,59.92 L343.61,58.89 L343.78,57.87 L343.94,56.96 L344.10,56.26 L344.24,55.86 L344.30,55.80 L344.35,55.84 L344.47,56.20 L344.58,56.86 L344.69,57.73 L344.78,58.73 L344.87,59.79 L344.94,60.81 L344.99,61.73 L345,61.88 L345.03,62.53 L345.06,63.33 L345.09,64.13 L345.12,64.92 L345.14,65.72 L345.16,66.52 L345.18,67.32 L345.20,68.12 L345.22,68.92 L345.24,69.72 L345.27,70.52 L345.30,71.32 L345.30,71.41 L345.33,72.12 L345.38,72.92 L345.43,73.72 L345.48,74.51 L345.54,75.31 L345.60,76.11 L345.67,76.91 L345.73,77.70 L345.80,78.50 L345.86,79.30 L345.93,80.10 L345.99,80.89 L346.05,81.69 L346.10,82.49 L346.15,83.29 L346.20,84.08 L346.20,84.18 L346.23,84.88 L346.27,85.68 L346.31,86.48 L346.34,87.28 L346.38,88.08 L346.41,88.88 L346.44,89.68 L346.47,90.47 L346.50,91.27 L346.53,92.07 L346.56,92.87 L346.58,93.67 L346.61,94.47 L346.64,95.27 L346.67,96.07 L346.69,96.87 L346.70,97.05 L346.72,97.67 L346.75,98.47 L346.78,99.26 L346.80,100.06 L346.83,100.86 L346.85,101.66 L346.88,102.46 L346.91,103.26 L346.93,104.06 L346.96,104.86 L346.98,105.66 L347,106.46 L347.03,107.26 L347.05,108.06 L347.07,108.86 L347.09,109.65 L347.10,109.92 L347.11,110.45 L347.13,111.25 L347.15,112.05 L347.17,112.85 L347.19,113.65 L347.21,114.45 L347.23,115.25 L347.24,116.05 L347.26,116.85 L347.28,117.65 L347.30,118.45 L347.31,119.25 L347.33,120.05 L347.35,120.85 L347.37,121.65 L347.39,122.44 L347.40,122.69 L347.42,123.24 L347.44,124.04 L347.46,124.84 L347.49,125.64 L347.51,126.44 L347.53,127.24 L347.56,128.04 L347.59,128.84 L347.61,129.64 L347.64,130.44 L347.67,131.24 L347.70,132.03 L347.72,132.83 L347.75,133.63 L347.78,134.43 L347.81,135.23 L347.84,136.03 L347.87,136.83 L347.90,137.63 L347.93,138.43 L347.95,139.23 L347.98,140.03 L348.01,140.82 L348.04,141.62 L348.07,142.42 L348.10,143.22 L348.12,144.02 L348.15,144.82 L348.18,145.62 L348.20,146.42 L348.23,147.22 L348.25,148.02 L348.28,148.82 L348.30,149.62 L348.30,149.64 L348.32,150.41 L348.34,151.21 L348.37,152.01 L348.39,152.81 L348.41,153.61 L348.43,154.41 L348.45,155.21 L348.47,156.01 L348.49,156.81 L348.51,157.61 L348.53,158.41 L348.55,159.21 L348.57,160.01 L348.59,160.81 L348.61,161.61 L348.63,162.40 L348.65,163.20 L348.67,164 L348.69,164.80 L348.71,165.60 L348.73,166.40 L348.75,167.20 L348.77,168 L348.79,168.80 L348.81,169.60 L348.82,170.40 L348.84,171.20 L348.86,172 L348.88,172.80 L348.90,173.60 L348.92,174.39 L348.94,175.19 L348.96,175.99 L348.98,176.79 L349,177.41 L349,177.59 L349.03,178.39 L349.05,179.19 L349.07,179.99 L349.09,180.79 L349.11,181.59 L349.13,182.39 L349.15,183.19 L349.17,183.99 L349.19,184.79 L349.21,185.59 L349.23,186.39 L349.25,187.18 L349.27,187.98 L349.29,188.78 L349.31,189.58 L349.33,190.38 L349.35,191.18 L349.37,191.98 L349.39,192.78 L349.41,193.58 L349.43,194.38 L349.45,195.18 L349.47,195.98 L349.49,196.78 L349.51,197.58 L349.53,198.38 L349.55,199.17 L349.57,199.97 L349.59,200.77 L349.62,201.57 L349.64,202.37 L349.66,203.17 L349.68,203.97 L349.70,204.77 L349.72,205.57 L349.75,206.37 L349.77,207.17 L349.79,207.97 L349.81,208.77 L349.84,209.57 L349.86,210.36 L349.89,211.16 L349.91,211.96 L349.93,212.76 L349.96,213.56 L349.98,214.36 L350.01,215.16 L350.03,215.96 L350.06,216.76 L350.09,217.56 L350.10,217.95 L350.11,218.36 L350.14,219.16 L350.17,219.95 L350.19,220.75 L350.22,221.55 L350.25,222.35 L350.28,223.15 L350.31,223.95 L350.33,224.75 L350.36,225.55 L350.39,226.35 L350.42,227.15 L350.45,227.95 L350.48,228.75 L350.51,229.54 L350.54,230.34 L350.57,231.14 L350.60,231.94 L350.63,232.74 L350.66,233.54 L350.69,234.34 L350.73,235.14 L350.76,235.94 L350.79,236.74 L350.82,237.54 L350.86,238.33 L350.89,239.13 L350.92,239.93 L350.96,240.73 L350.99,241.53 L351.03,242.33 L351.06,243.13 L351.10,243.93 L351.13,244.73 L351.17,245.53 L351.21,246.32 L351.24,247.12 L351.28,247.92 L351.32,248.72 L351.36,249.52 L351.39,250.32 L351.43,251.12 L351.47,251.92 L351.51,252.71 L351.55,253.51 L351.59,254.31 L351.63,255.11 L351.68,255.91 L351.72,256.71 L351.76,257.50 L351.80,258.30 L351.85,259.10 L351.89,259.90 L351.94,260.70 L351.98,261.49 L352.03,262.29 L352.07,263.09 L352.10,263.55 L352.12,263.89 L352.17,264.69 L352.22,265.48 L352.27,266.28 L352.32,267.08 L352.38,267.88 L352.43,268.67 L352.49,269.47 L352.55,270.27 L352.61,271.07 L352.67,271.86 L352.73,272.66 L352.79,273.46 L352.86,274.25 L352.92,275.05 L352.99,275.85 L353.05,276.65 L353.12,277.44 L353.19,278.24 L353.26,279.04 L353.33,279.83 L353.40,280.63 L353.47,281.43 L353.54,282.22 L353.61,283.02 L353.68,283.82 L353.75,284.61 L353.82,285.41 L353.90,286.21 L353.97,287 L354.04,287.80 L354.11,288.60 L354.19,289.39 L354.26,290.19 L354.33,290.98 L354.40,291.78 L354.48,292.58 L354.55,293.37 L354.60,293.95 L354.62,294.17 L354.69,294.97 L354.76,295.76 L354.83,296.56 L354.91,297.36 L354.98,298.15 L355.05,298.95 L355.12,299.74 L355.20,300.54 L355.27,301.34 L355.34,302.13 L355.42,302.93 L355.49,303.73 L355.57,304.52 L355.64,305.32 L355.72,306.11 L355.80,306.91 L355.88,307.71 L355.96,308.50 L356.04,309.30 L356.12,310.09 L356.20,310.89 L356.28,311.68 L356.37,312.48 L356.45,313.27 L356.54,314.07 L356.62,314.86 L356.70,315.54 L356.71,315.66 L356.80,316.45 L356.90,317.25 L356.99,318.04 L357.09,318.83 L357.18,319.63 L357.28,320.42 L357.39,321.21 L357.49,322 L357.59,322.80 L357.70,323.59 L357.80,324.38 L357.91,325.18 L358.02,325.97 L358.13,326.76 L358.24,327.55 L358.34,328.34 L358.46,329.14 L358.57,329.93 L358.68,330.72 L358.79,331.51 L358.90,332.30 L359.01,333.10 L359.12,333.89 L359.23,334.68 L359.34,335.47 L359.45,336.27 L359.56,337.06 L359.67,337.85 L359.78,338.64 L359.88,339.43 L359.90,339.56 L359.99,340.23 L360.10,341.02 L360.20,341.81 L360.31,342.60 L360.41,343.40 L360.52,344.19 L360.63,344.98 L360.73,345.77 L360.84,346.57 L360.94,347.36 L361.05,348.15 L361.16,348.94 L361.26,349.74 L361.37,350.53 L361.48,351.32 L361.58,352.11 L361.69,352.91 L361.80,353.70 L361.91,354.49 L362.01,355.28 L362.12,356.08 L362.23,356.87 L362.30,357.39 L362.34,357.66 L362.44,358.46 L362.53,359.26 L362.63,360.06 L362.71,360.86 L362.80,361.66 L362.89,362.46 L362.98,363.26 L363.08,364.06 L363.18,364.86 L363.29,365.65 L363.42,366.44 L363.55,367.22 L363.70,367.99 L363.86,368.76 L363.90,368.95 L364.04,369.58 L364.28,370.54 L364.57,371.50 L364.90,372.32 L365.28,372.86 L365.60,373 L365.72,373 L366.26,373 L366.94,373 L367.72,373 L368.60,373 L369.57,373 L370.60,373" stroke="#000" stroke-dasharray="4.2 8.7" stroke-dashoffset="10.29"/>
</g>
<text x="82.5" y="378.9" font-size="17.6" text-anchor="end" textLength="37.6" stroke="#000" stroke-width="0.35" lengthAdjust="spacingAndGlyphs">0.00</text>
<text x="82.5" y="333.8" font-size="17.6" text-anchor="end" textLength="37.6" stroke="#000" stroke-width="0.35" lengthAdjust="spacingAndGlyphs">0.05</text>
<text x="82.5" y="288.7" font-size="17.6" text-anchor="end" textLength="37.6" stroke="#000" stroke-width="0.35" lengthAdjust="spacingAndGlyphs">0.10</text>
<text x="82.5" y="243.6" font-size="17.6" text-anchor="end" textLength="37.6" stroke="#000" stroke-width="0.35" lengthAdjust="spacingAndGlyphs">0.15</text>
<text x="82.5" y="198.6" font-size="17.6" text-anchor="end" textLength="37.6" stroke="#000" stroke-width="0.35" lengthAdjust="spacingAndGlyphs">0.20</text>
<text x="82.5" y="153.5" font-size="17.6" text-anchor="end" textLength="37.6" stroke="#000" stroke-width="0.35" lengthAdjust="spacingAndGlyphs">0.25</text>
<text x="82.5" y="108.4" font-size="17.6" text-anchor="end" textLength="37.6" stroke="#000" stroke-width="0.35" lengthAdjust="spacingAndGlyphs">0.30</text>
<text x="82.5" y="63.3" font-size="17.6" text-anchor="end" textLength="37.6" stroke="#000" stroke-width="0.35" lengthAdjust="spacingAndGlyphs">0.35</text>
<text x="82.5" y="18.2" font-size="17.6" text-anchor="end" textLength="37.6" stroke="#000" stroke-width="0.35" lengthAdjust="spacingAndGlyphs">0.40</text>
<text x="81.8" y="400.7" font-size="17.6" textLength="27.4" stroke="#000" stroke-width="0.35" lengthAdjust="spacingAndGlyphs">0.0</text>
<text x="137.3" y="400.7" font-size="17.6" textLength="27.4" stroke="#000" stroke-width="0.35" lengthAdjust="spacingAndGlyphs">0.3</text>
<text x="200.1" y="400.7" font-size="17.6" textLength="27.4" stroke="#000" stroke-width="0.35" lengthAdjust="spacingAndGlyphs">2.1</text>
<text x="255.6" y="400.7" font-size="17.6" textLength="27.4" stroke="#000" stroke-width="0.35" lengthAdjust="spacingAndGlyphs">2.4</text>
<text x="318.2" y="400.7" font-size="17.6" textLength="27.4" stroke="#000" stroke-width="0.35" lengthAdjust="spacingAndGlyphs">4.2</text>
<text x="373.7" y="400.7" font-size="17.6" textLength="27.4" stroke="#000" stroke-width="0.35" lengthAdjust="spacingAndGlyphs">4.5</text>
<text x="445.5" y="400.7" font-size="17.6" textLength="27.4" stroke="#000" stroke-width="0.35" lengthAdjust="spacingAndGlyphs">6.3</text>
<text x="501.0" y="400.7" font-size="17.6" textLength="27.4" stroke="#000" stroke-width="0.35" lengthAdjust="spacingAndGlyphs">6.6</text>
<text x="272.5" y="431.7" font-size="24.5" textLength="90.8" lengthAdjust="spacingAndGlyphs" stroke="#000" stroke-width="0.3">Time (s)</text>
<text transform="translate(24.3,307.8) rotate(-90)" font-size="24" textLength="258" lengthAdjust="spacingAndGlyphs" stroke="#000" stroke-width="0.3">Partial pressure (mbar)</text>
<rect x="368.45" y="14.1" width="167.2" height="114.2" fill="#fff" stroke="#333" stroke-width="1.1"/>
<text transform="translate(389.6,32.0) scale(1.032,1)" font-size="16.4" stroke="#000" stroke-width="0.2">TMA flow rate:</text>
<text transform="translate(371.0,52.0) scale(1.025,1)" font-size="16.4" stroke="#000" stroke-width="0.2">15 sccm</text>
<text transform="translate(453.0,52.0) scale(1.012,1)" font-size="16.4" stroke="#000" stroke-width="0.2">105 sccm</text>
<line x1="384.5" y1="67.6" x2="422.4" y2="67.6" stroke="#0cc5f3" stroke-width="3.3" stroke-linecap="round"/>
<line x1="455.2" y1="67.6" x2="487" y2="67.6" stroke="#1078a6" stroke-width="3.3" stroke-linecap="round" stroke-dasharray="4.9 7.85"/>
<line x1="384.5" y1="92.2" x2="422.4" y2="92.2" stroke="#fb7282" stroke-width="3.3" stroke-linecap="round"/>
<line x1="455.2" y1="92.2" x2="487" y2="92.2" stroke="#cd102a" stroke-width="3.3" stroke-linecap="round" stroke-dasharray="4.9 7.85"/>
<line x1="384.5" y1="116.8" x2="422.4" y2="116.8" stroke="#000" stroke-width="3.3" stroke-linecap="round"/>
<line x1="455.2" y1="116.8" x2="487" y2="116.8" stroke="#000" stroke-width="3.3" stroke-linecap="round" stroke-dasharray="4.9 7.85"/>
<text transform="translate(497.8,73.4) scale(1.05,1)" font-size="16.4" stroke="#000" stroke-width="0.2">CH<tspan font-size="10.2" dy="4.4">4</tspan></text>
<text transform="translate(498.0,98.0) scale(1.03,1)" font-size="16.4" stroke="#000" stroke-width="0.2">H<tspan font-size="10.2" dy="4.6">2</tspan><tspan dy="-4.6">O</tspan></text>
<text transform="translate(498.0,122.8) scale(1.025,1)" font-size="16.4" stroke="#000" stroke-width="0.2">TMA</text>
<text transform="translate(533.3,149.6) scale(1.025,1)" font-size="16.4" text-anchor="end" stroke="#000" stroke-width="0.2">H<tspan font-size="10.2" dy="4.6">2</tspan><tspan dy="-4.6">O = 23.5 sccm</tspan></text>
<text transform="translate(532.6,173.8) scale(1.02,1)" font-size="16.4" text-anchor="end" stroke="#000" stroke-width="0.2">200°C</text>
</svg>
</body></html>
